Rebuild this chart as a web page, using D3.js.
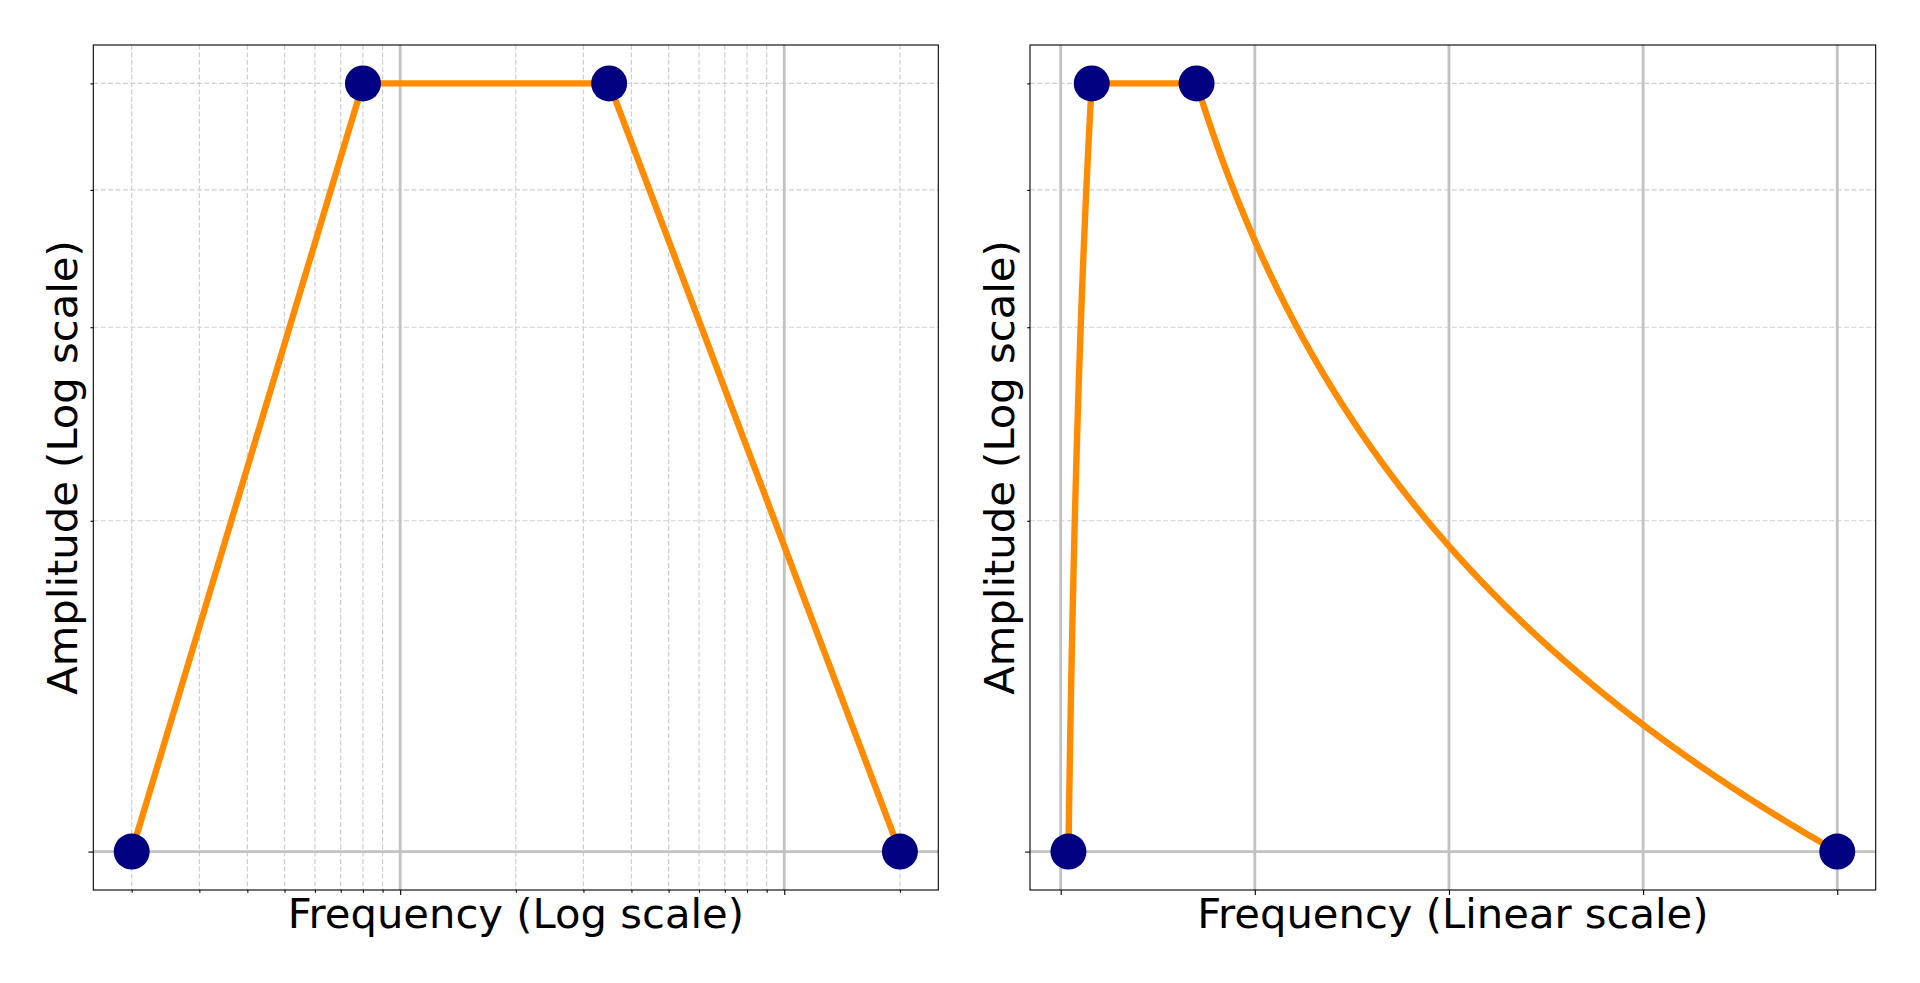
<!DOCTYPE html>
<html>
<head>
<meta charset="utf-8">
<script src="https://cdn.jsdelivr.net/npm/d3@7"></script>
<style>
  html, body { margin: 0; padding: 0; background: #fff; }
  svg { display: block; }
  text { font-family: "DejaVu Sans", sans-serif; fill: #000; }
</style>
</head>
<body>
<svg id="chart" width="1920" height="983"></svg>
<script>
// ---- data ----
const frequencies = [0.2, 0.8, 3.5, 20];
const amplitudes = [1, 5, 5, 1];
const xMajorTicksLog = [1, 10];
const xMinorTicksLog = [0.2, 0.3, 0.4, 0.5, 0.6, 0.7, 0.8, 0.9, 2, 3, 4, 5, 6, 7, 8, 9, 20];
const xTicksLinear = [0, 5, 10, 15, 20];
const yMajorTicks = [1];
const yMinorTicks = [2, 3, 4, 5];
const xLabels = ["Frequency (Log scale)", "Frequency (Linear scale)"];
const yLabel = "Amplitude (Log scale)";

const points = frequencies.map((f, i) => ({ f, a: amplitudes[i] }));

const svg = d3.select("#chart");
const plotTop = 45, plotBottom = 890;

// y: log with 5% margins in log space
const lyMin = Math.log10(d3.min(amplitudes)), lyMax = Math.log10(d3.max(amplitudes));
const ym = (lyMax - lyMin) * 0.05;
const y = d3.scaleLog().domain([Math.pow(10, lyMin - ym), Math.pow(10, lyMax + ym)]).range([plotBottom, plotTop]);

const lxMin = Math.log10(d3.min(frequencies)), lxMax = Math.log10(d3.max(frequencies));
const lxm = (lxMax - lxMin) * 0.05;
const xLog = d3.scaleLog().domain([Math.pow(10, lxMin - lxm), Math.pow(10, lxMax + lxm)]).range([93.3, 938.3]);

const fMin = d3.min(frequencies), fMax = d3.max(frequencies);
const fm = (fMax - fMin) * 0.05;
const xLin = d3.scaleLinear().domain([fMin - fm, fMax + fm]).range([1030, 1875.7]);

// path through points, straight in log-log space
function logLogPath(x) {
  const pts = [];
  for (let i = 0; i < points.length - 1; i++) {
    const p0 = points[i], p1 = points[i + 1];
    const n = 200;
    for (let k = 0; k <= n; k++) {
      if (i > 0 && k === 0) continue;
      const t = k / n;
      const f = Math.pow(10, Math.log10(p0.f) + t * (Math.log10(p1.f) - Math.log10(p0.f)));
      const a = Math.pow(10, Math.log10(p0.a) + t * (Math.log10(p1.a) - Math.log10(p0.a)));
      pts.push([x(f), y(a)]);
    }
  }
  return d3.line()(pts);
}

function drawPanel(x, xMajor, xMinor, xLabel) {
  const g = svg.append("g");
  const [x0, x1] = x.range();

  // minor grid (dashed)
  g.selectAll(".vminor").data(xMinor).enter().append("line")
    .attr("x1", d => x(d)).attr("x2", d => x(d)).attr("y1", plotTop).attr("y2", plotBottom)
    .attr("stroke", "#cfcfcf").attr("stroke-width", 1.2).attr("stroke-dasharray", "5,2.4");
  g.selectAll(".hminor").data(yMinorTicks).enter().append("line")
    .attr("x1", x0).attr("x2", x1).attr("y1", d => y(d)).attr("y2", d => y(d))
    .attr("stroke", "#cfcfcf").attr("stroke-width", 1.2).attr("stroke-dasharray", "5,2.4");
  // major grid (solid)
  g.selectAll(".vmajor").data(xMajor).enter().append("line")
    .attr("x1", d => x(d)).attr("x2", d => x(d)).attr("y1", plotTop).attr("y2", plotBottom)
    .attr("stroke", "#c2c2c2").attr("stroke-width", 2.8);
  g.selectAll(".hmajor").data(yMajorTicks).enter().append("line")
    .attr("x1", x0).attr("x2", x1).attr("y1", d => y(d)).attr("y2", d => y(d))
    .attr("stroke", "#c2c2c2").attr("stroke-width", 2.8);

  // line
  g.append("path").attr("d", logLogPath(x))
    .attr("fill", "none").attr("stroke", "#ff8c00").attr("stroke-width", 6.4)
    .attr("stroke-linejoin", "round");
  // markers
  g.selectAll(".pt").data(points).enter().append("circle")
    .attr("cx", d => x(d.f)).attr("cy", d => y(d.a)).attr("r", 18)
    .attr("fill", "#000080");

  // axes with ticks but no labels
  const bx = g.append("g").attr("transform", `translate(0,${plotBottom})`)
    .call(d3.axisBottom(x).tickValues(xMajor).tickFormat("").tickSizeOuter(0).tickSizeInner(4.9));
  bx.select(".domain").remove();
  if (xMinor.length) {
    g.append("g").attr("transform", `translate(0,${plotBottom})`)
      .call(d3.axisBottom(x).tickValues(xMinor).tickFormat("").tickSizeOuter(0).tickSizeInner(2.8))
      .select(".domain").remove();
  }
  g.append("g").attr("transform", `translate(${x0},0)`)
    .call(d3.axisLeft(y).tickValues(yMajorTicks).tickFormat("").tickSizeOuter(0).tickSizeInner(4.9))
    .select(".domain").remove();
  g.append("g").attr("transform", `translate(${x0},0)`)
    .call(d3.axisLeft(y).tickValues(yMinorTicks).tickFormat("").tickSizeOuter(0).tickSizeInner(2.8))
    .select(".domain").remove();
  g.selectAll(".tick line").attr("stroke", "#000").attr("stroke-width", 1.1);

  // frame
  g.append("rect").attr("x", x0).attr("y", plotTop).attr("width", x1 - x0).attr("height", plotBottom - plotTop)
    .attr("fill", "none").attr("stroke", "#000").attr("stroke-width", 1.1);

  // labels
  g.append("text").attr("x", (x0 + x1) / 2).attr("y", 928)
    .attr("text-anchor", "middle").style("font-size", "41.7px").text(xLabel);
  g.append("text").attr("transform", `translate(${x0 - 16},${(plotTop + plotBottom) / 2}) rotate(-90)`)
    .attr("text-anchor", "middle").style("font-size", "41.7px").text(yLabel);
}

drawPanel(xLog, xMajorTicksLog, xMinorTicksLog, xLabels[0]);
drawPanel(xLin, xTicksLinear, [], xLabels[1]);
</script>
</body>
</html>
